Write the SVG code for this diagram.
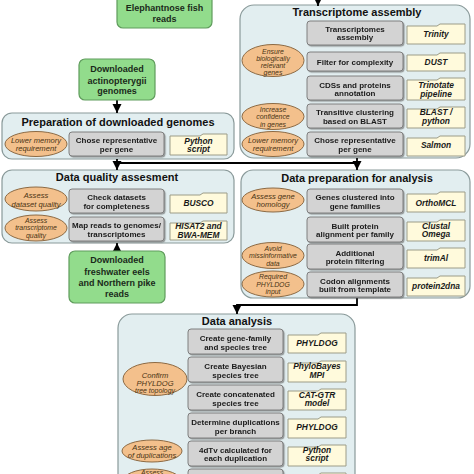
<svg xmlns="http://www.w3.org/2000/svg" width="474" height="474" viewBox="0 0 474 474">
<style>
.bg{fill:#ffffff}
.panel{fill:#e2eef0;stroke:#8a9a9a;stroke-width:1.2}
.gbox{fill:#d3d3d3;stroke:#7e7e7e;stroke-width:1}
.ybox{fill:#fffadc;stroke:#9c9c88;stroke-width:1}
.oval{fill:#f3c08c;stroke:#8c6a44;stroke-width:1}
.green{fill:#92dc8c;stroke:#5f9c5c;stroke-width:1.2}
text{font-family:"Liberation Sans",Arial,sans-serif;text-anchor:middle}
.t{font-size:11px;font-weight:bold;fill:#111}
.g{font-size:8px;font-weight:bold;fill:#1a1a1a}
.y{font-size:8.4px;font-weight:bold;font-style:italic;fill:#1a1a1a}
.o{font-size:7.6px;font-style:italic;fill:#4a3414}
.o3{font-size:6.9px;font-style:italic;fill:#4a3414}
.n{font-size:9px;font-weight:bold;fill:#1a2a1a}
.c{fill:none;stroke:#000;stroke-width:1.8}
</style>
<defs>
<marker id="ah" markerUnits="userSpaceOnUse" markerWidth="10" markerHeight="10" refX="9" refY="4.5" orient="auto">
<path d="M0,0 L9,4.5 L0,9 Z" fill="#000"/>
</marker>
<filter id="sh" x="-10%" y="-10%" width="130%" height="140%">
<feDropShadow dx="1.2" dy="1.2" stdDeviation="0.6" flood-color="#666" flood-opacity="0.6"/>
</filter>
</defs>
<rect class="bg" x="0" y="0" width="474" height="474"/>

<!-- Panels -->
<g id="panel-prep">
<rect class="panel" x="2" y="113" width="232" height="46" rx="10"/>
<text class="t" x="118" y="126">Preparation of downloaded genomes</text>
</g>
<g id="panel-quality">
<rect class="panel" x="2" y="170" width="232" height="73" rx="10"/>
<text class="t" x="117" y="181">Data quality assesment</text>
</g>
<g id="panel-transcriptome">
<rect class="panel" x="240" y="5" width="230" height="153" rx="14"/>
<text class="t" x="357" y="16">Transcriptome assembly</text>
</g>
<g id="panel-dataprep">
<rect class="panel" x="241" y="170" width="229" height="128" rx="12"/>
<text class="t" x="357" y="182">Data preparation for analysis</text>
</g>
<g id="panel-analysis">
<rect class="panel" x="118" y="314" width="237" height="175" rx="14"/>
<text class="t" x="237" y="325">Data analysis</text>
</g>

<!-- Connectors -->
<g id="connectors">
<path class="c" d="M318,-4 V6" marker-end="url(#ah)"/>
<path class="c" d="M117,100 V113" marker-end="url(#ah)"/>
<path class="c" d="M117,159 V170" marker-end="url(#ah)"/>
<path class="c" d="M117,163 H357"/>
<path class="c" d="M357,158 V170" marker-end="url(#ah)"/>
<path class="c" d="M117,251 V243" marker-end="url(#ah)"/>
<path class="c" d="M357,298 V305 H237 V314" marker-end="url(#ah)"/>
</g>

<!-- Green input nodes -->
<g id="elephantnose">
<rect class="green" x="117" y="-12" width="95" height="40" rx="6"/>
<text class="n" x="164.5" y="10.5">Elephantnose fish</text>
<text class="n" x="164.5" y="22">reads</text>
</g>
<g id="actinopterygii">
<rect class="green" x="79" y="59" width="76" height="41" rx="6"/>
<text class="n" x="117" y="72">Downloaded</text>
<text class="n" x="117" y="83.5">actinopterygii</text>
<text class="n" x="117" y="94">genomes</text>
</g>
<g id="eels-pike">
<rect class="green" x="69" y="251" width="96" height="52" rx="6"/>
<text class="n" x="117" y="263">Downloaded</text>
<text class="n" x="117" y="275">freshwater eels</text>
<text class="n" x="117" y="286">and Northern pike</text>
<text class="n" x="117" y="297">reads</text>
</g>

<!-- Preparation of downloaded genomes -->
<g id="prep-oval">
<ellipse class="oval" cx="36" cy="144" rx="31" ry="12.5"/>
<text class="o" x="36" y="142.5">Lower memory</text>
<text class="o" x="36" y="151">requirement</text>
</g>
<g id="prep-step" filter="url(#sh)">
<rect class="gbox" x="69" y="132" width="95" height="24" rx="3"/>
<text class="g" x="116.5" y="143">Chose representative</text>
<text class="g" x="116.5" y="151.5">per gene</text>
</g>
<g id="prep-tool">
<path class="ybox" d="M170,136H200L203,134H227V155H170Z"/>
<text class="y" x="198.5" y="143.5">Python</text>
<text class="y" x="198.5" y="152">script</text>
</g>

<!-- Data quality -->
<g id="dq-oval1">
<ellipse class="oval" cx="36" cy="199" rx="31" ry="12"/>
<text class="o" x="36" y="198">Assess</text>
<text class="o" x="36" y="206.5">dataset quality</text>
</g>
<g id="dq-step1" filter="url(#sh)">
<rect class="gbox" x="69" y="189" width="95" height="24" rx="3"/>
<text class="g" x="116.5" y="200">Check datasets</text>
<text class="g" x="116.5" y="208.5">for completeness</text>
</g>
<g id="dq-tool1">
<path class="ybox" d="M170,195H200L203,193H227V213H170Z"/>
<text class="y" x="198.5" y="205.5">BUSCO</text>
</g>
<g id="dq-oval2">
<ellipse class="oval" cx="36" cy="228" rx="31" ry="13"/>
<text class="o3" x="36" y="222.5">Assess</text>
<text class="o3" x="36" y="230">transcriptome</text>
<text class="o3" x="36" y="237.5">quality</text>
</g>
<g id="dq-step2" filter="url(#sh)">
<rect class="gbox" x="69" y="217" width="95" height="24" rx="3"/>
<text class="g" x="116.5" y="228">Map reads to genomes/</text>
<text class="g" x="116.5" y="236.5">transcriptomes</text>
</g>
<g id="dq-tool2">
<path class="ybox" d="M170,223H200L203,221H227V240H170Z"/>
<text class="y" x="198.5" y="229">HISAT2 and</text>
<text class="y" x="198.5" y="237.5">BWA-MEM</text>
</g>

<!-- Transcriptome assembly -->
<g id="ta-step1" filter="url(#sh)">
<rect class="gbox" x="307" y="21" width="96" height="24" rx="3"/>
<text class="g" x="355" y="31.5">Transcriptomes</text>
<text class="g" x="355" y="40">assembly</text>
</g>
<g id="ta-tool1">
<path class="ybox" d="M407,26H437L440,24H465V44H407Z"/>
<text class="y" x="436" y="36.5">Trinity</text>
</g>
<g id="ta-oval1">
<ellipse class="oval" cx="273" cy="60.5" rx="31" ry="16"/>
<text class="o3" x="273" y="53.5">Ensure</text>
<text class="o3" x="273" y="60.5">biologically</text>
<text class="o3" x="273" y="67.5">relevant</text>
<text class="o3" x="273" y="74.5">genes</text>
</g>
<g id="ta-step2" filter="url(#sh)">
<rect class="gbox" x="307" y="52" width="96" height="19" rx="3"/>
<text class="g" x="355" y="64.5">Filter for complexity</text>
</g>
<g id="ta-tool2">
<path class="ybox" d="M407,55H437L440,53H465V71H407Z"/>
<text class="y" x="436" y="65">DUST</text>
</g>
<g id="ta-step3" filter="url(#sh)">
<rect class="gbox" x="307" y="76" width="96" height="24" rx="3"/>
<text class="g" x="355" y="87.5">CDSs and proteins</text>
<text class="g" x="355" y="96">annotation</text>
</g>
<g id="ta-tool3">
<path class="ybox" d="M407,80H437L440,78H465V100H407Z"/>
<text class="y" x="436" y="88">Trinotate</text>
<text class="y" x="436" y="96.5">pipeline</text>
</g>
<g id="ta-oval2">
<ellipse class="oval" cx="273" cy="116.5" rx="31" ry="13"/>
<text class="o3" x="273" y="111.5">Increase</text>
<text class="o3" x="273" y="119">confidence</text>
<text class="o3" x="273" y="126.5">in genes</text>
</g>
<g id="ta-step4" filter="url(#sh)">
<rect class="gbox" x="307" y="104" width="96" height="24" rx="3"/>
<text class="g" x="355" y="115">Transitive clustering</text>
<text class="g" x="355" y="123.5">based on BLAST</text>
</g>
<g id="ta-tool4">
<path class="ybox" d="M407,109H437L440,107H465V128H407Z"/>
<text class="y" x="436" y="115">BLAST /</text>
<text class="y" x="436" y="123.5">python</text>
</g>
<g id="ta-oval3">
<ellipse class="oval" cx="273" cy="144" rx="31" ry="12.5"/>
<text class="o" x="273" y="142.5">Lower memory</text>
<text class="o" x="273" y="151">requirement</text>
</g>
<g id="ta-step5" filter="url(#sh)">
<rect class="gbox" x="307" y="132" width="96" height="24" rx="3"/>
<text class="g" x="355" y="143">Chose representative</text>
<text class="g" x="355" y="151.5">per gene</text>
</g>
<g id="ta-tool5">
<path class="ybox" d="M407,138H437L440,136H465V156H407Z"/>
<text class="y" x="436" y="148">Salmon</text>
</g>

<!-- Data preparation for analysis -->
<g id="dp-oval1">
<ellipse class="oval" cx="273" cy="200" rx="31" ry="12"/>
<text class="o" x="273" y="198.5">Assess gene</text>
<text class="o" x="273" y="207">homology</text>
</g>
<g id="dp-step1" filter="url(#sh)">
<rect class="gbox" x="307" y="189" width="96" height="24" rx="3"/>
<text class="g" x="355" y="200">Genes clustered into</text>
<text class="g" x="355" y="208.5">gene families</text>
</g>
<g id="dp-tool1">
<path class="ybox" d="M407,194H437L440,192H465V212H407Z"/>
<text class="y" x="436" y="205.5">OrthoMCL</text>
</g>
<g id="dp-step2" filter="url(#sh)">
<rect class="gbox" x="307" y="217" width="96" height="25" rx="3"/>
<text class="g" x="355" y="228.5">Built protein</text>
<text class="g" x="355" y="237">alignment per family</text>
</g>
<g id="dp-tool2">
<path class="ybox" d="M407,222H437L440,220H465V241H407Z"/>
<text class="y" x="436" y="228.5">Clustal</text>
<text class="y" x="436" y="237">Omega</text>
</g>
<g id="dp-oval3">
<ellipse class="oval" cx="273" cy="255.5" rx="31" ry="13"/>
<text class="o3" x="273" y="250.5">Avoid</text>
<text class="o3" x="273" y="258">missinformative</text>
<text class="o3" x="273" y="265.5">data</text>
</g>
<g id="dp-step3" filter="url(#sh)">
<rect class="gbox" x="307" y="244" width="96" height="25" rx="3"/>
<text class="g" x="355" y="255.5">Additional</text>
<text class="g" x="355" y="264">protein filtering</text>
</g>
<g id="dp-tool3">
<path class="ybox" d="M407,250H437L440,248H465V268H407Z"/>
<text class="y" x="436" y="260.5">trimAl</text>
</g>
<g id="dp-oval4">
<ellipse class="oval" cx="273" cy="284" rx="31" ry="13"/>
<text class="o3" x="273" y="279">Required</text>
<text class="o3" x="273" y="286.5">PHYLDOG</text>
<text class="o3" x="273" y="294">input</text>
</g>
<g id="dp-step4" filter="url(#sh)">
<rect class="gbox" x="307" y="272" width="96" height="25" rx="3"/>
<text class="g" x="355" y="283.5">Codon alignments</text>
<text class="g" x="355" y="292">built from template</text>
</g>
<g id="dp-tool4">
<path class="ybox" d="M407,278H437L440,276H465V296H407Z"/>
<text class="y" x="436" y="288.5">protein2dna</text>
</g>

<!-- Data analysis -->
<g id="da-step1" filter="url(#sh)">
<rect class="gbox" x="188" y="329" width="95" height="25" rx="3"/>
<text class="g" x="235.5" y="341">Create gene-family</text>
<text class="g" x="235.5" y="349.5">and species tree</text>
</g>
<g id="da-tool1">
<path class="ybox" d="M288,335H318L321,333H346V353H288Z"/>
<text class="y" x="317" y="345.5">PHYLDOG</text>
</g>
<g id="da-oval1">
<ellipse class="oval" cx="155" cy="379" rx="32" ry="16.5"/>
<text class="o" x="155" y="378">Confirm</text>
<text class="o" x="155" y="385.5">PHYLDOG</text>
<text class="o3" x="155" y="393">tree topology</text>
</g>
<g id="da-step2" filter="url(#sh)">
<rect class="gbox" x="188" y="357" width="95" height="25" rx="3"/>
<text class="g" x="235.5" y="369">Create Bayesian</text>
<text class="g" x="235.5" y="377.5">species tree</text>
</g>
<g id="da-tool2">
<path class="ybox" d="M288,363H318L321,361H346V382H288Z"/>
<text class="y" x="317" y="369">PhyloBayes</text>
<text class="y" x="317" y="377.5">MPI</text>
</g>
<g id="da-step3" filter="url(#sh)">
<rect class="gbox" x="188" y="385" width="95" height="25" rx="3"/>
<text class="g" x="235.5" y="397">Create concatenated</text>
<text class="g" x="235.5" y="405.5">species tree</text>
</g>
<g id="da-tool3">
<path class="ybox" d="M288,391H318L321,389H346V410H288Z"/>
<text class="y" x="317" y="397.5">CAT-GTR</text>
<text class="y" x="317" y="406">model</text>
</g>
<g id="da-step4" filter="url(#sh)">
<rect class="gbox" x="188" y="413" width="95" height="25" rx="3"/>
<text class="g" x="235.5" y="425">Determine duplications</text>
<text class="g" x="235.5" y="433.5">per branch</text>
</g>
<g id="da-tool4">
<path class="ybox" d="M288,419H318L321,417H346V438H288Z"/>
<text class="y" x="317" y="429.5">PHYLDOG</text>
</g>
<g id="da-oval5">
<ellipse class="oval" cx="152" cy="451" rx="30" ry="11"/>
<text class="o" x="152" y="449.5">Assess age</text>
<text class="o" x="152" y="458">of duplications</text>
</g>
<g id="da-step5" filter="url(#sh)">
<rect class="gbox" x="188" y="441" width="95" height="25" rx="3"/>
<text class="g" x="235.5" y="452.5">4dTv calculated for</text>
<text class="g" x="235.5" y="461">each duplication</text>
</g>
<g id="da-tool5">
<path class="ybox" d="M288,447H318L321,445H346V466H288Z"/>
<text class="y" x="317" y="452.5">Python</text>
<text class="y" x="317" y="461">script</text>
</g>
<g id="da-oval6">
<ellipse class="oval" cx="152" cy="481" rx="29" ry="12"/>
<text class="o3" x="152" y="474.5">Assess</text>
</g>
<g id="da-step6" filter="url(#sh)">
<rect class="gbox" x="188" y="469" width="95" height="25" rx="3"/>
</g>
<g id="da-tool6">
<path class="ybox" d="M288,475H318L321,473H346V494H288Z"/>
</g>
</svg>
